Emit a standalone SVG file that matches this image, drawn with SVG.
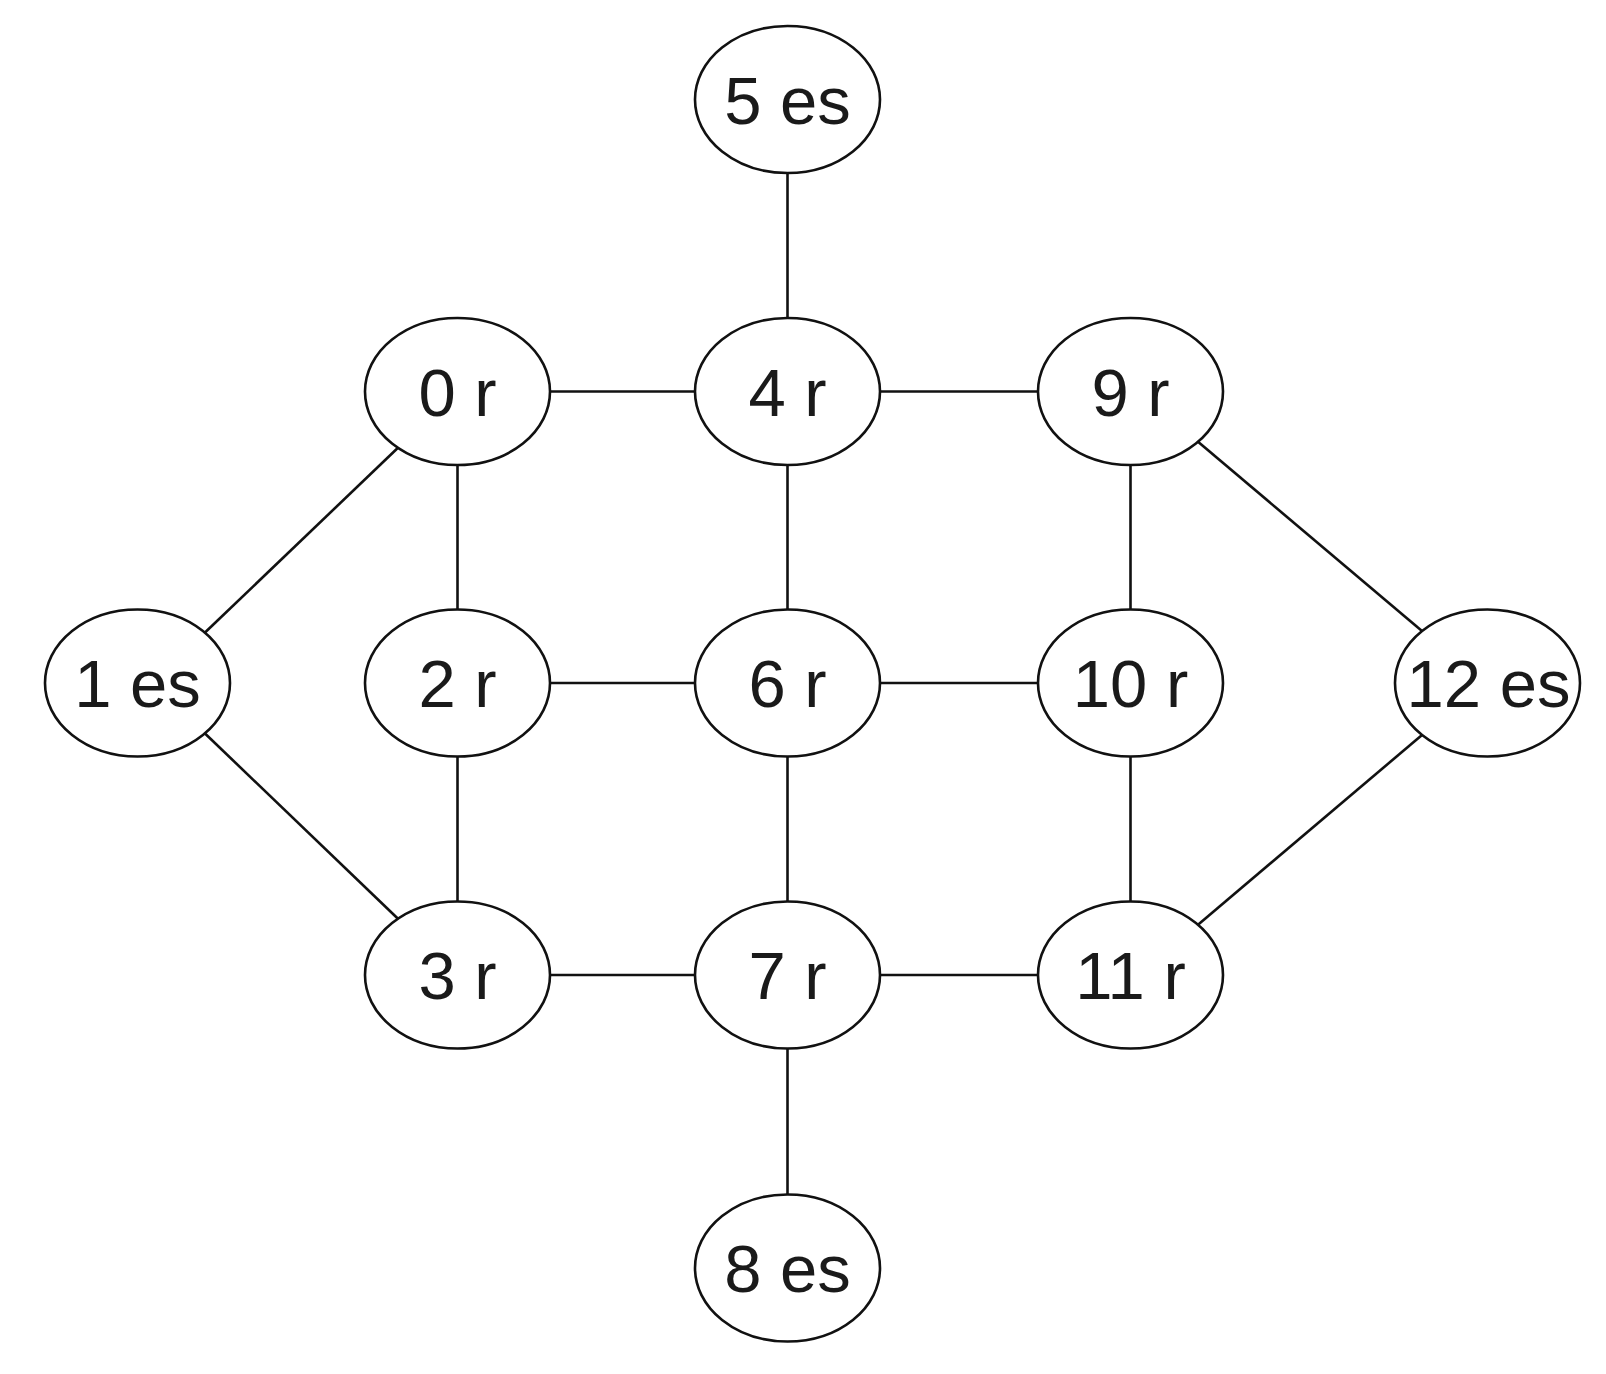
<svg xmlns="http://www.w3.org/2000/svg" width="1606" height="1374" viewBox="0 0 1606 1374">
<style>
.n ellipse{fill:#fff;stroke:#111;stroke-width:2.6}
.n text{font-family:"Liberation Sans",Arial,sans-serif;font-size:67px;fill:#1a1a1a;text-anchor:middle}
#edges line{stroke:#111;stroke-width:2.6}
</style>
<rect width="1606" height="1374" fill="#fff"/>
<g id="edges">
<line x1="787.5" y1="173" x2="787.5" y2="318"/>
<line x1="550" y1="391.5" x2="695" y2="391.5"/>
<line x1="880" y1="391.5" x2="1038" y2="391.5"/>
<line x1="457.5" y1="465" x2="457.5" y2="609.5"/>
<line x1="787.5" y1="465" x2="787.5" y2="609.5"/>
<line x1="1130.5" y1="465" x2="1130.5" y2="609.5"/>
<line x1="550" y1="683" x2="695" y2="683"/>
<line x1="880" y1="683" x2="1038" y2="683"/>
<line x1="457.5" y1="756.5" x2="457.5" y2="901.5"/>
<line x1="787.5" y1="756.5" x2="787.5" y2="901.5"/>
<line x1="1130.5" y1="756.5" x2="1130.5" y2="901.5"/>
<line x1="550" y1="975" x2="695" y2="975"/>
<line x1="880" y1="975" x2="1038" y2="975"/>
<line x1="787.5" y1="1048.5" x2="787.5" y2="1194.5"/>
<line x1="205" y1="632.5" x2="398" y2="447.8"/>
<line x1="205" y1="733.5" x2="398" y2="918.7"/>
<line x1="1198" y1="441.8" x2="1422" y2="631"/>
<line x1="1198" y1="924.7" x2="1422" y2="735"/>
</g>
<g id="n5" class="n"><ellipse cx="787.5" cy="99.5" rx="92.5" ry="73.5"/><text x="787.5" y="123.5">5 es</text></g>
<g id="n0" class="n"><ellipse cx="457.5" cy="391.5" rx="92.5" ry="73.5"/><text x="457.5" y="415.5">0 r</text></g>
<g id="n4" class="n"><ellipse cx="787.5" cy="391.5" rx="92.5" ry="73.5"/><text x="787.5" y="415.5">4 r</text></g>
<g id="n9" class="n"><ellipse cx="1130.5" cy="391.5" rx="92.5" ry="73.5"/><text x="1130.5" y="415.5">9 r</text></g>
<g id="n1" class="n"><ellipse cx="137.5" cy="683" rx="92.5" ry="73.5"/><text x="137.5" y="707">1 es</text></g>
<g id="n2" class="n"><ellipse cx="457.5" cy="683" rx="92.5" ry="73.5"/><text x="457.5" y="707">2 r</text></g>
<g id="n6" class="n"><ellipse cx="787.5" cy="683" rx="92.5" ry="73.5"/><text x="787.5" y="707">6 r</text></g>
<g id="n10" class="n"><ellipse cx="1130.5" cy="683" rx="92.5" ry="73.5"/><text x="1130.5" y="707">10 r</text></g>
<g id="n12" class="n"><ellipse cx="1487.5" cy="683" rx="92.5" ry="73.5"/><text x="1488.5" y="707">12 es</text></g>
<g id="n3" class="n"><ellipse cx="457.5" cy="975" rx="92.5" ry="73.5"/><text x="457.5" y="999">3 r</text></g>
<g id="n7" class="n"><ellipse cx="787.5" cy="975" rx="92.5" ry="73.5"/><text x="787.5" y="999">7 r</text></g>
<g id="n11" class="n"><ellipse cx="1130.5" cy="975" rx="92.5" ry="73.5"/><text x="1130.5" y="999">11 r</text></g>
<g id="n8" class="n"><ellipse cx="787.5" cy="1268" rx="92.5" ry="73.5"/><text x="787.5" y="1292">8 es</text></g>
</svg>
